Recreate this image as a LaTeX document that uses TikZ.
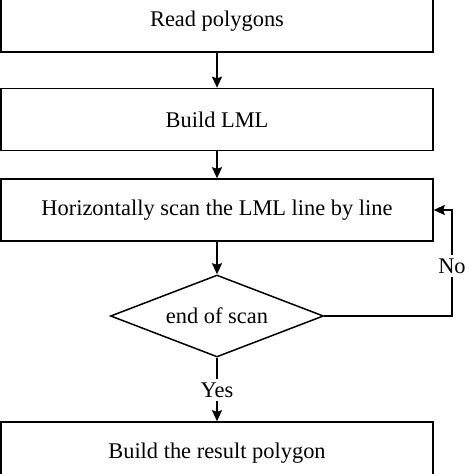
\documentclass[tikz,border=0pt]{standalone}
\usepackage{fontspec}
\setmainfont{Liberation Serif}
\usetikzlibrary{arrows.meta,positioning,shapes.geometric,calc}
\tikzset{stepbox/.style={draw, rectangle, minimum width=432bp, minimum height=62bp,
             inner sep=0pt, line width=1.5bp},
         decision/.style={draw, diamond, aspect=2.6, minimum width=213bp,
             minimum height=82bp, inner sep=0pt, line width=1.5bp},
         flowlabel/.style={inner sep=3bp},
         flow/.style={line width=1.5bp, -{Stealth[length=11bp,width=10bp,inset=1.5bp]}}}

\begin{document}
\begin{tikzpicture}[x=1bp, y=-1bp, font=\fontsize{22.5}{27}\selectfont]
  \clip (0,0) rectangle (474,474);
  \node[stepbox]  (read)   at (217,  21) {Read polygons};
  \node[stepbox]  (lml)    at (217, 119.5) {Build LML};
  \node[stepbox]  (hscan)  at (217, 210) {Horizontally scan the LML line by line};
  \node[decision] (endscan) at (217, 316) {end of scan};
  \node[flowlabel] (yes)   at (217, 390) {Yes};
  \node[flowlabel] (no)    at (452, 266) {No};
  \node[stepbox]  (result) at (217, 453) {Build the result polygon};

  \draw[flow] (read) -- (lml);
  \draw[flow] (lml) -- (hscan);
  \draw[flow] (hscan) -- (endscan);
  \draw[line width=1.5bp] (endscan.south) -- (yes.north);
  \draw[flow] (yes.south) -- (result.north);
  \draw[line width=1.5bp] (endscan.east) -| (no.south);
  \draw[flow] (no.north) |- (hscan.east);
\end{tikzpicture}
\end{document}
